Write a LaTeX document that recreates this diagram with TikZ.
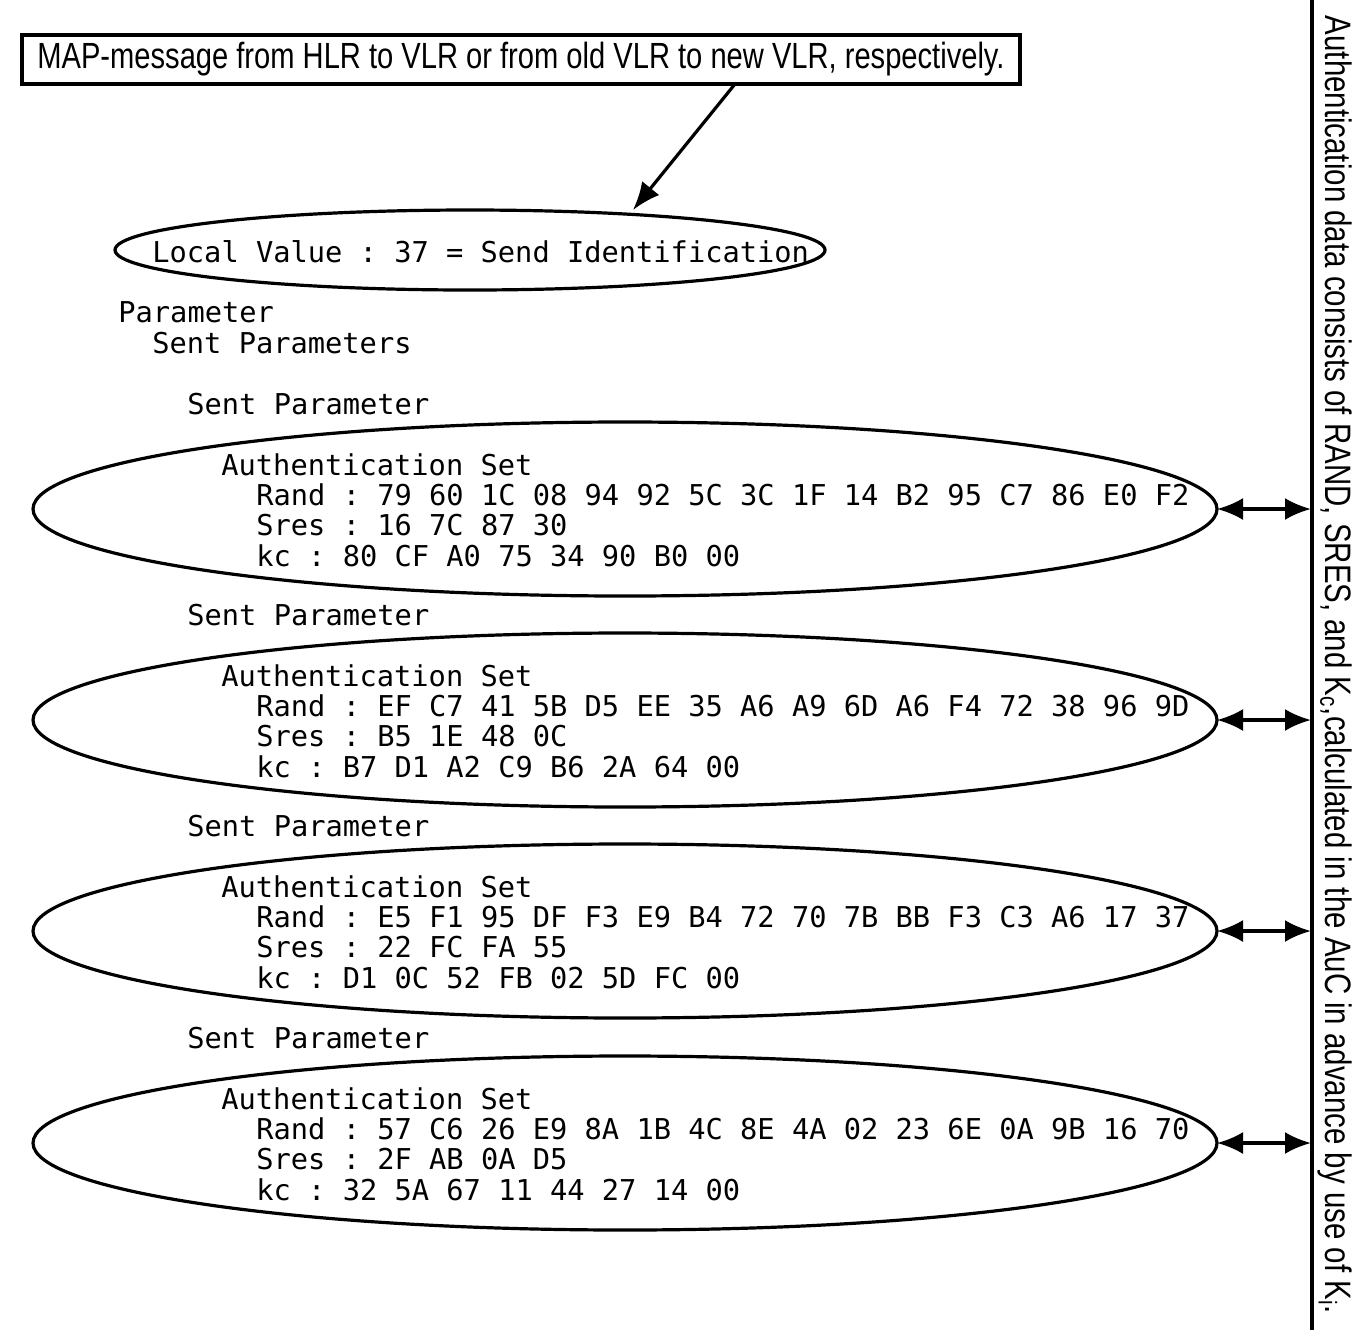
\documentclass[tikz,border=0pt]{standalone}
\usepackage{fontspec}
\setmainfont{Liberation Sans}[FakeStretch=0.8]
\setmonofont{DejaVu Sans Mono}
\usetikzlibrary{arrows.meta}
\begin{document}
\begin{tikzpicture}[x=0.5pt,y=-0.5pt,
  mono/.style={font=\ttfamily\fontsize{14.35}{15}\selectfont,anchor=west,inner sep=0},
  dbl/.style={line width=1.6pt,{Latex[length=13pt,width=11pt]}-{Latex[length=13pt,width=11pt]}}]
\useasboundingbox (0,0) rectangle (1355,1330);
\node[draw,line width=1.6pt,minimum width=499pt,minimum height=24.5pt,inner sep=0,font=\fontsize{18.2}{20}\selectfont] (hdr) at (521,59.5) {MAP-message from HLR to VLR or from old VLR to new VLR, respectively.};
\draw[line width=1.6pt] (1312,0) -- (1312,1330);
\node[rotate=-90,font=\fontsize{18.4}{20}\selectfont] (side) at (1335,665) {Authentication data consists of RAND, SRES, and K\textsubscript{c},calculated in the AuC in advance by use of K\textsubscript{i}.};
\draw[line width=1.6pt] (470,250) ellipse [x radius=355, y radius=40];
\coordinate (e0) at (633,210);
\draw[line width=1.6pt,-{Latex[length=14pt,width=11pt]}] (735,84) -- (e0);
\node[mono] (lv) at (152,252) {Local Value : 37 = Send Identification};
\node[mono] (par) at (118,312) {Parameter};
\node[mono] (sps) at (152,343) {Sent Parameters};
\foreach \i/\y/\r/\s/\k in {
 1/509/{79 60 1C 08 94 92 5C 3C 1F 14 B2 95 C7 86 E0 F2}/{16 7C 87 30}/{80 CF A0 75 34 90 B0 00},
 2/720/{EF C7 41 5B D5 EE 35 A6 A9 6D A6 F4 72 38 96 9D}/{B5 1E 48 0C}/{B7 D1 A2 C9 B6 2A 64 00},
 3/931/{E5 F1 95 DF F3 E9 B4 72 70 7B BB F3 C3 A6 17 37}/{22 FC FA 55}/{D1 0C 52 FB 02 5D FC 00},
 4/1143/{57 C6 26 E9 8A 1B 4C 8E 4A 02 23 6E 0A 9B 16 70}/{2F AB 0A D5}/{32 5A 67 11 44 27 14 00}}{
  \node[mono] (sp\i) at (187,\y-105) {Sent Parameter};
  \draw[line width=1.6pt] (625,\y) ellipse [x radius=592, y radius=87];
  \node[mono] (as\i) at (221,\y-44) {Authentication Set};
  \node[mono] (r\i) at (256,\y-14) {Rand : \r};
  \node[mono] (s\i) at (256,\y+16) {Sres : \s};
  \node[mono] (k\i) at (256,\y+47) {kc : \k};
  \coordinate (a\i) at (1217,\y);
  \coordinate (b\i) at (1311,\y);
  \draw[dbl] (a\i) -- (b\i);
}
\end{tikzpicture}
\end{document}
